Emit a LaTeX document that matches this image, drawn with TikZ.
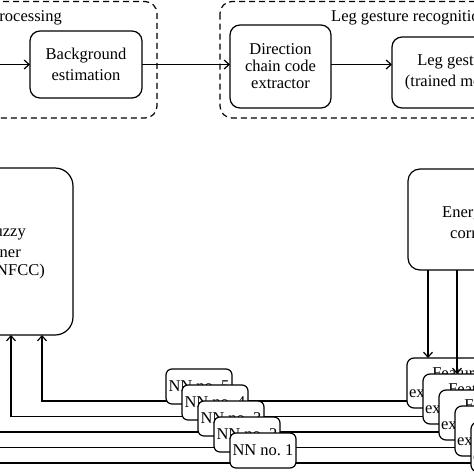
\documentclass[tikz,border=0pt]{standalone}
\usepackage{fontspec}
\setmainfont{Liberation Serif}
\usetikzlibrary{arrows.meta}
\begin{document}
\begin{tikzpicture}[x=1pt,y=-1pt,
  lw/.style={line width=1.2pt},
  box/.style={draw, lw, rounded corners=#1, fill=white, inner sep=0pt, outer sep=0pt, anchor=north west},
  box/.default=10pt,
  dbox/.style={draw, lw, dash pattern=on 6pt off 4pt, rounded corners=12pt},
  arr/.style={lw, -{Straight Barb[length=5pt,width=9pt,line width=1.2pt]}},
  lbl/.style={font=\fontsize{16.5}{21}\selectfont, inner sep=0pt, align=center},
]
\useasboundingbox (0,0) rectangle (474,474);
\clip (0,0) rectangle (474,474);

% top row
\draw[dbox] (-40,1.5) rectangle (157,118);
\draw[dbox] (220,1.5) rectangle (560,118);
\node[lbl, anchor=base east] (pre) at (62,21) {Preprocessing};
\node[lbl, anchor=base west] (lgr) at (331,21) {Leg gesture recognition};

\node[box=10pt, minimum width=112pt, minimum height=67pt, lbl] (bg) at (30,31) {Background\\estimation};
\node[box=10pt, minimum width=101pt, minimum height=83pt, lbl, font=\fontsize{16.5}{17}\selectfont] (dir) at (230,25) {Direction\\chain code\\extractor};
\node[box=10pt, minimum width=128pt, minimum height=71pt, lbl] (leg) at (392,37) {Leg gesture\\(trained model)};

\coordinate (in) at (-10,64.5);
\draw[arr] (in) -- (bg.west);
\draw[arr] (bg.east) -- (bg.east -| dir.west);
\draw[arr] (dir.east |- bg.east) -- (leg.west |- bg.east);

% middle row
\node[box=18pt, minimum width=173pt, minimum height=167pt] (nfcc) at (-100,168) {};
\node[lbl, anchor=base east] (t1) at (26,236) {Neuro-fuzzy};
\node[lbl, anchor=base east] (t2) at (21,257) {combiner};
\node[lbl, anchor=base east] (t3) at (45,275) {(NFCC)};

\node[box=12pt, minimum width=120pt, minimum height=101pt] (en) at (408,169) {};
\node[lbl, anchor=base west] (e1) at (442,217) {Energy};
\node[lbl, anchor=base west] (e2) at (450,238) {correlation};

% feature extractors
\foreach \i in {1,...,5} {
  \pgfmathsetmacro\xx{407+16*(\i-1)}
  \pgfmathsetmacro\yy{358+16*(\i-1)}
  \pgfmathtruncatemacro\k{6-\i}
  \node[box=7pt, minimum width=100pt, minimum height=50pt, lbl, font=\fontsize{16.5}{19}\selectfont] (fe\i) at (\xx,\yy) {Feature\\extractor no.~\k};
}
\coordinate (dx1) at (428,0);
\coordinate (dx2) at (457,0);
\draw[arr] (en.south -| dx1) -- (fe1.north -| dx1);
\draw[arr] (en.south -| dx2) -- (fe2.north -| dx2);

% connecting lines
\coordinate (s1) at (42,401);
\coordinate (s2) at (11,416.5);
\coordinate (s3) at (-5,432);
\coordinate (s4) at (-5,447.5);
\coordinate (s5) at (-5,463);
\draw[arr] (s1 -| fe1.west) -- (s1) -- (s1 |- nfcc.south);
\draw[arr] (s2 -| fe2.west) -- (s2) -- (s2 |- nfcc.south);
\draw[lw] (s3) -- (s3 -| fe3.west);
\draw[lw] (s4) -- (s4 -| fe4.west);
\draw[lw] (s5) -- (s5 -| fe5.west);

% neural networks
\foreach \i in {1,...,5} {
  \pgfmathsetmacro\xx{166+16*(\i-1)}
  \pgfmathsetmacro\yy{369+16*(\i-1)}
  \pgfmathtruncatemacro\k{6-\i}
  \node[box=6pt, minimum width=66pt, minimum height=35pt, lbl] (nn\i) at (\xx,\yy) {NN no.~\k};
}
\end{tikzpicture}
\end{document}
